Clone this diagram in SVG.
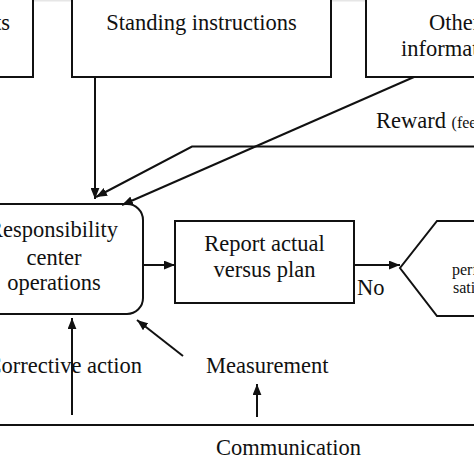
<svg xmlns="http://www.w3.org/2000/svg" width="474" height="474" viewBox="0 0 474 474">
<defs>
<style>
.box{fill:#fff;stroke:#111;stroke-width:2}
.ln{fill:none;stroke:#111;stroke-width:2}
.t{font-family:"Liberation Serif","Times New Roman",serif;font-size:22.5px;fill:#111}
.s{font-family:"Liberation Serif","Times New Roman",serif;font-size:16px;fill:#111}
</style>
<marker id="ah" viewBox="0 0 10 8" refX="10" refY="4" markerWidth="11" markerHeight="9" markerUnits="userSpaceOnUse" orient="auto">
<path d="M0,0 L10,4 L0,8 Z" fill="#111"/>
</marker>
</defs>
<rect width="474" height="474" fill="#fff"/>
<rect x="0" y="0" width="474" height="1.5" fill="#e6e6e6"/>
<g id="budgets">
<rect class="box" x="-60" y="-10" width="93" height="87"/>
<text class="t" x="10" y="30" text-anchor="end">Budgets</text>
</g>
<g id="standing">
<rect class="box" x="72" y="-10" width="259" height="87"/>
<text class="t" x="201.5" y="30" text-anchor="middle">Standing instructions</text>
</g>
<g id="other">
<rect class="box" x="366" y="-10" width="140" height="87"/>
<text class="t" x="429" y="30">Other</text>
<text class="t" x="401" y="56">information</text>
</g>
<g id="responsibility">
<rect class="box" x="-35" y="204" width="178" height="110" rx="16" ry="16"/>
<text class="t" x="53" y="237" text-anchor="middle">Responsibility</text>
<text class="t" x="54" y="265" text-anchor="middle">center</text>
<text class="t" x="54" y="290" text-anchor="middle">operations</text>
</g>
<g id="report">
<rect class="box" x="175" y="221" width="179" height="82"/>
<text class="t" x="264.5" y="251" text-anchor="middle">Report actual</text>
<text class="t" x="264.5" y="277" text-anchor="middle">versus plan</text>
</g>
<g id="decision">
<path class="box" d="M520,221 L437,221 L400,268 L437,316 L520,316"/>
<text class="s" x="452" y="275">performance</text>
<text class="s" x="453" y="293">satisfactory?</text>
</g>
<g id="labels">
<text class="t" x="376" y="128">Reward <tspan style="font-size:16px">(feedback)</tspan></text>
<text class="t" x="357" y="295">No</text>
<text class="t" x="142" y="373" text-anchor="end">Corrective action</text>
<text class="t" x="206" y="373">Measurement</text>
<text class="t" x="216" y="455">Communication</text>
</g>
<g id="connectors">
<line class="ln" x1="95" y1="77" x2="95" y2="199" marker-end="url(#ah)"/>
<line class="ln" x1="414" y1="77" x2="122" y2="205" marker-end="url(#ah)"/>
<polyline class="ln" points="476,146.5 192,146.5 96,197" marker-end="url(#ah)"/>
<line class="ln" x1="143" y1="265" x2="175" y2="265" marker-end="url(#ah)"/>
<line class="ln" x1="354" y1="265" x2="400" y2="265" marker-end="url(#ah)"/>
<line class="ln" x1="72" y1="415" x2="72" y2="318" marker-end="url(#ah)"/>
<line class="ln" x1="183" y1="356" x2="137" y2="320" marker-end="url(#ah)"/>
<line class="ln" x1="257" y1="417" x2="257" y2="384" marker-end="url(#ah)"/>
<line class="ln" x1="-2" y1="425" x2="476" y2="425"/>
</g>
</svg>
